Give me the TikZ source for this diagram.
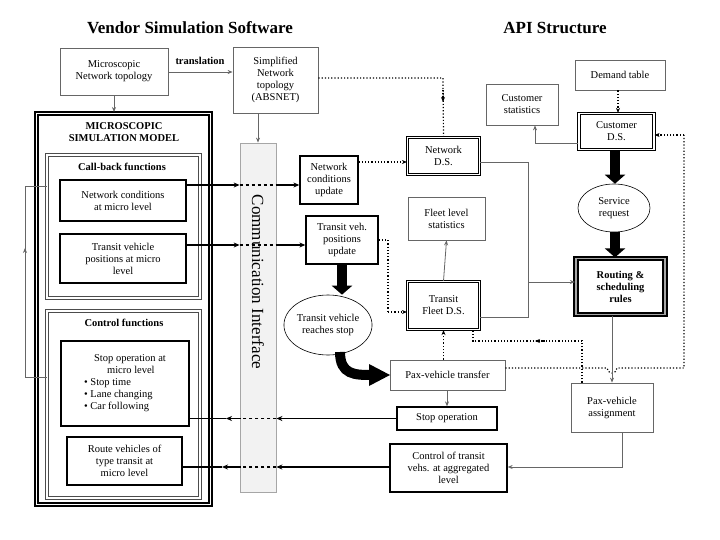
\documentclass[tikz,border=0pt]{standalone}
\usepackage{fontspec}
\setmainfont{Liberation Serif}
\newfontfamily\tms{Liberation Serif}
\usetikzlibrary{arrows.meta,shapes.geometric,calc}
\begin{document}
\begin{tikzpicture}[x=1pt,y=-1pt,
  every node/.style={font=\tms\fontsize{10.5}{12}\selectfont,align=center,inner sep=0pt},
  bf/.style={font=\tms\fontsize{10.5}{12}\selectfont\bfseries},
  gbox/.style={draw=gray!80!black,line width=0.8pt},
  bbox/.style={draw=black,line width=1.3pt},
  dbox/.style={draw=black,line width=1.2pt,double=white,double distance=1.3pt},
  gln/.style={draw=gray!80!black,line width=0.8pt},
  ga/.style={gln,-{Stealth[length=5pt,width=4pt]}},
  dt/.style={draw=black,line width=1.2pt,dotted},
  da/.style={dt,-{Stealth[length=5pt,width=4pt]}},
  ta/.style={draw=black,line width=1.4pt,-{Stealth[length=6pt,width=5pt]}},
  big/.style={draw=black,line width=10pt,-{Triangle[length=9pt,width=20pt]}}]
\useasboundingbox (0,0) rectangle (720,540);
% titles
\node[font=\tms\fontsize{17}{19}\selectfont\bfseries] (t1) at (190,28) {Vendor Simulation Software};
\node[font=\tms\fontsize{17}{19}\selectfont\bfseries] (t2) at (555,28) {API Structure};
% left side
\node[gbox,minimum width=108pt,minimum height=47pt] (mnt) at (114,71.5) {Microscopic\\Network topology};
\node[gbox,minimum width=85pt,minimum height=66pt] (abs) at (275.5,80) {Simplified\\Network\\topology\\(ABSNET)};
\node[bf] (tr) at (200,61) {translation};
\draw[ga] (mnt.east|-0,72) -- (abs.west|-0,72);
\node[fill=gray!10,draw=gray!70,line width=0.8pt,minimum width=36pt,minimum height=349pt] (ci) at (258,317.5) {};
\node[rotate=-90,font=\tms\fontsize{17}{19}\selectfont] (cit) at (258,282) {Communication Interface};
\draw[ga] (abs.south-|ci.north) -- (ci.north);
% model box
\draw[black,line width=2pt] (35,112) rectangle (212,506);
\node[draw=black,line width=1.2pt,minimum width=171pt,minimum height=388pt] (model) at (123.5,309) {};
\draw[ga] (mnt.south) -- (mnt.south|-0,112);
\node[bf] (mt) at (124,132) {MICROSCOPIC\\SIMULATION MODEL};
\node[draw=gray!60!black,line width=1pt,double=white,double distance=1.5pt,minimum width=153pt,minimum height=143pt] (cb) at (123.5,226.5) {};
\node[bf] (cbt) at (122,167) {Call-back functions};
\node[bbox,minimum width=126pt,minimum height=41pt] (nc) at (123,200.5) {Network conditions\\at micro level};
\node[bbox,minimum width=126pt,minimum height=49pt] (tv) at (123,258.5) {Transit vehicle\\positions at micro\\level};
\node[draw=gray!60!black,line width=1pt,double=white,double distance=1.5pt,minimum width=153pt,minimum height=187pt] (cf) at (123.5,404.5) {};
\node[bf] (cft) at (124,323) {Control functions};
\node[bbox,minimum width=128pt,minimum height=85pt,align=left] (so) at (125,383.5) {\hspace*{10pt}Stop operation at\\\hspace*{23pt}micro level\\\textbullet\ Stop time\\\textbullet\ Lane changing\\\textbullet\ Car following};
\node[bbox,minimum width=115pt,minimum height=48pt] (rv) at (124.5,461) {Route vehicles of\\type transit at\\micro level};
\coordinate (fb1) at (25,377);
\coordinate (fb2) at (25,186);
\draw[gln] (cf.west|-0,377) -- (fb1) -- (fb2) -- (cb.west|-0,186);
\draw[ga] (25,300) -- (25,248);
% middle
\node[bbox,minimum width=58pt,minimum height=48pt] (ncu) at (329,180) {Network\\conditions\\update};
\node[bbox,minimum width=72pt,minimum height=48pt] (tvu) at (342,240) {Transit veh.\\positions\\update};
\draw[ta] (nc.east|-0,185) -- (ci.west|-0,185);
\draw[black,line width=1.4pt,dashed] (ci.west|-0,185) -- (ci.east|-0,185);
\draw[ta] (ci.east|-0,185) -- (ncu.west|-0,185);
\draw[ta] (tv.east|-0,245) -- (ci.west|-0,245);
\draw[black,line width=1.4pt,dashed] (ci.west|-0,245) -- (ci.east|-0,245);
\draw[ta] (ci.east|-0,245) -- (tvu.west|-0,245);
\node[draw,ellipse,line width=0.6pt,minimum width=80pt,minimum height=60pt] (tvr) at (328,325) {Transit vehicle\\reaches stop};
\draw[big] (tvu.south) -- (tvr.north-|tvu.south);
\node[gbox,minimum width=115pt,minimum height=30pt] (pvt) at (447.5,375) {Pax-vehicle transfer};
\draw[black,line width=10pt] (340,352) .. controls (340,375) and (355,375) .. (372,375);
\fill (369,364) -- (390,375) -- (369,386) -- cycle;
\node[bbox,minimum width=100pt,minimum height=23pt] (sop) at (447,418.5) {Stop operation};
\node[bbox,minimum width=117pt,minimum height=48pt] (ctv) at (448.5,468) {Control of transit\\vehs. at aggregated\\level};
\draw[ga] (pvt.south-|sop.north) -- (sop.north);
\draw[ta] (sop.west) -- (ci.east|-sop.west);
\draw[black,line width=1.4pt,dashed] (ci.east|-sop.west) -- (ci.west|-sop.west);
\draw[ta] (ci.west|-sop.west) -- (226,418.5);
\draw[black,line width=1.4pt] (226,418.5) -- (so.east|-sop.west);
\draw[ta] (ctv.west|-0,467) -- (ci.east|-0,467);
\draw[black,line width=1.4pt,dashed] (ci.east|-0,467) -- (ci.west|-0,467);
\draw[ta] (ci.west|-0,467) -- (222,467);
\draw[black,line width=1.4pt] (222,467) -- (rv.east|-0,467);
% API
\node[dbox,minimum width=72pt,minimum height=37pt] (nds) at (443.5,156) {Network\\D.S.};
\node[gbox,minimum width=77pt,minimum height=43pt] (fls) at (446.5,218.5) {Fleet level\\statistics};
\node[dbox,minimum width=72pt,minimum height=48pt] (tds) at (443.5,305.5) {Transit\\Fleet D.S.};
\node[gbox,minimum width=72pt,minimum height=41pt] (cst) at (522,104.5) {Customer\\statistics};
\node[gbox,minimum width=90pt,minimum height=30pt] (dem) at (620,75) {Demand table};
\node[dbox,minimum width=75pt,minimum height=36pt] (cds) at (616.5,131.5) {Customer\\D.S.};
\node[draw,ellipse,line width=0.6pt,minimum width=72pt,minimum height=48pt] (srq) at (614,208) {Service\\request};
\node[draw=black,line width=2.2pt,double=gray!70,double distance=1.2pt,minimum width=89pt,minimum height=56pt,bf] (rsr) at (620.5,286.5) {Routing \&\\scheduling\\rules};
\node[gbox,minimum width=82pt,minimum height=49pt] (pva) at (612,407.5) {Pax-vehicle\\assignment};
% connectors API
\draw[dt] (abs.east|-0,78) -- (443,78) -- (nds.north);
\draw[da] (443,90) -- (443,102);
\draw[da] (ncu.east|-0,162) -- (nds.west|-0,162);
\coordinate (j1) at (528,162);
\coordinate (j2) at (528,317);
\draw[gln] (nds.east|-0,162) -- (j1) -- (528,282);
\draw[gln] (tds.east|-0,317) -- (j2) -- (528,282);
\draw[ga] (528,282) -- (rsr.west|-0,282);
\draw[ga] (tds.north) -- (fls.south);
\coordinate (d1) at (388,240);
\coordinate (d2) at (388,312);
\draw[dt] (tvu.east|-0,240) -- (d1) -- (d2);
\draw[da] (d2) -- (tds.west|-0,312);
\draw[da] (pvt.north-|tds.south) -- (tds.south);
\coordinate (d3) at (473,341);
\coordinate (d4) at (582,341);
\draw[dt] (pva.north-|d4) -- (d4) -- (d3) -- (d3|-tds.south);
\draw[da] (545,341) -- (535,341);
\draw[dt] (pvt.east|-0,368) -- (607,368) arc[start angle=180,end angle=0,radius=5] -- (684,368) -- (684,135);
\draw[da] (684,135) -- (cds.east|-0,135);
\draw[ga] (cds.west|-0,143) -- (535,143) -- (cst.south-|535,0);
\draw[da] (dem.south-|618,0) -- (cds.north-|618,0);
\draw[big] (cds.south-|615,0) -- (srq.north-|615,0);
\draw[big] (srq.south-|615,0) -- (rsr.north-|615,0);
\draw[ga] (rsr.south-|612,0) -- (pva.north-|612,0);
\draw[gln] (pva.south-|622,0) -- (622,467) -- (570,467);
\draw[ga] (572,467) -- (ctv.east|-0,467);
\end{tikzpicture}
\end{document}
